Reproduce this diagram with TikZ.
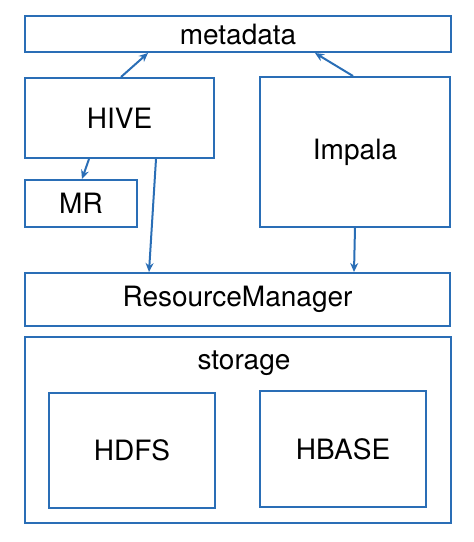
\documentclass[tikz,border=0pt]{standalone}
\usepackage{fontspec}
\setmainfont{TeX Gyre Heros}
\usepackage{xcolor}
\usepackage{tikz}
\usetikzlibrary{arrows.meta,positioning}

\definecolor{boxblue}{RGB}{42,110,182}

\begin{document}
\begin{tikzpicture}[x=1pt, y=-1pt, line width=2pt,
    >={Stealth[length=9pt, width=8pt]},
    font=\fontsize{28}{32}\selectfont]

    \tikzset{box/.style={draw=boxblue, fill=white, rectangle, inner sep=0pt, text=black},
             link/.style={->, draw=boxblue, line width=2pt}}

    \useasboundingbox (0,0) rectangle (474,542);

    \node[box, minimum width=426pt, minimum height=36pt] (metadata) at (238,34) {metadata};
    \node[box, minimum width=189pt, minimum height=80pt] (HIVE) at (119.5,118) {HIVE};
    \node[box, minimum width=190pt, minimum height=150pt] (Impala) at (355,152) {Impala};
    \node[box, minimum width=112pt, minimum height=47pt] (MR) at (81,203.5) {MR};
    \node[box, minimum width=425pt, minimum height=53pt] (ResourceManager) at (237.5,299.5) {ResourceManager};
    \node[box, minimum width=426pt, minimum height=186pt] (storage) at (238,430) {};
    \node (storagelabel) at (244,363) {storage};
    \node[box, minimum width=166pt, minimum height=115pt] (HDFS) at (132,450.5) {HDFS};
    \node[box, minimum width=166pt, minimum height=116pt] (HBASE) at (343,449) {HBASE};

    \draw[link] ([xshift=97pt]HIVE.north west) -- ([xshift=124pt]metadata.south west);
    \draw[link] ([xshift=94pt]Impala.north west) -- ([xshift=291pt]metadata.south west);
    \draw[link] ([xshift=65pt]HIVE.south west) -- ([xshift=58pt]MR.north west);
    \draw[link] ([xshift=132pt]HIVE.south west) -- ([xshift=125pt]ResourceManager.north west);
    \draw[link] (Impala.south) -- ([xshift=330pt]ResourceManager.north west);

\end{tikzpicture}
\end{document}
